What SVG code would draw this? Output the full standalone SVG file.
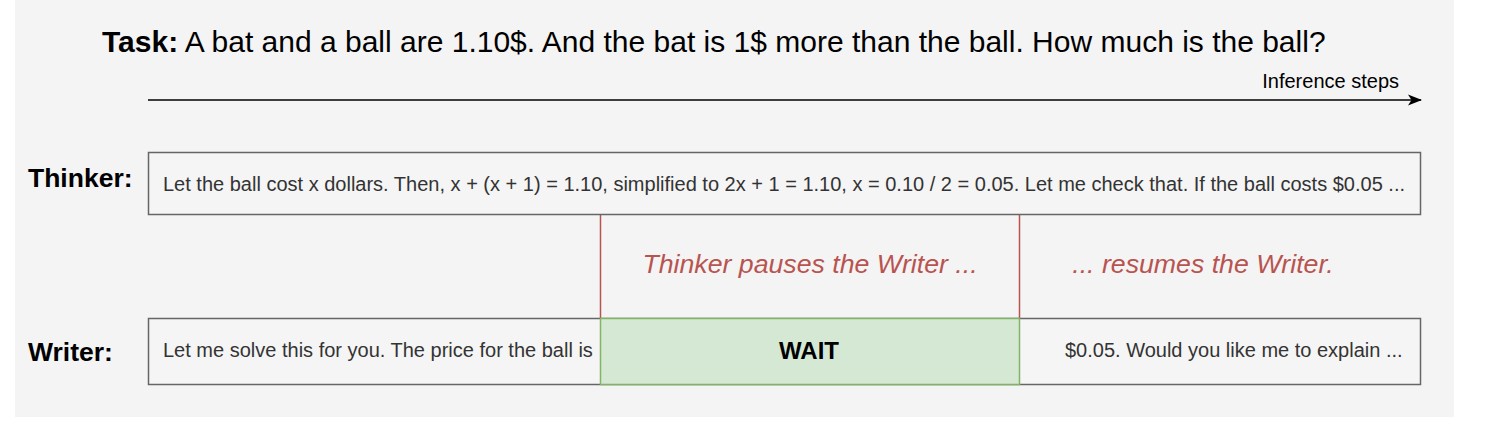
<svg xmlns="http://www.w3.org/2000/svg" width="1485" height="428" viewBox="0 0 1485 428">
<style>
.box{fill:#f5f5f5;stroke:#666666;stroke-width:1.5}
.lbl{font-family:"Liberation Sans",Arial,sans-serif;font-weight:bold;font-size:26.5px;fill:#000}
.txt{font-family:"Liberation Sans",Arial,sans-serif;font-size:20px;fill:#333333}
.red{font-family:"Liberation Sans",Arial,sans-serif;font-style:italic;font-size:26.7px;fill:#b85450;text-anchor:middle}
</style>
<defs>
<marker id="ah" markerWidth="14" markerHeight="14" refX="13" refY="7" orient="auto" markerUnits="userSpaceOnUse">
<path d="M0,1.5 L14,7 L0,12.5 L3.5,7 Z" fill="#000"/>
</marker>
</defs>
<rect x="0" y="0" width="1485" height="428" fill="#ffffff"/>
<rect x="15" y="0" width="1439" height="417" fill="#f4f4f4"/>
<g id="title">
<text x="102" y="52" font-family="Liberation Sans,Arial,sans-serif" font-size="30" fill="#000"><tspan font-weight="bold">Task:</tspan> A bat and a ball are 1.10$. And the bat is 1$ more than the ball. How much is the ball?</text>
</g>
<g id="connectors">
<line x1="148" y1="100" x2="1421" y2="100" stroke="#000" stroke-width="1.5" marker-end="url(#ah)"/>
<line x1="600.5" y1="215" x2="600.5" y2="318" stroke="#b85450" stroke-width="1.5"/>
<line x1="1019.5" y1="215" x2="1019.5" y2="318" stroke="#b85450" stroke-width="1.5"/>
</g>
<g id="axis-label">
<text x="1399" y="88" text-anchor="end" font-family="Liberation Sans,Arial,sans-serif" font-size="20" fill="#000">Inference steps</text>
</g>
<g id="thinker-label"><text class="lbl" x="28" y="187">Thinker:</text></g>
<g id="thinker">
<rect class="box" x="148.5" y="152.5" width="1272" height="62"/>
<text class="txt" x="163" y="191">Let the ball cost x dollars. Then, x + (x + 1) = 1.10, simplified to 2x + 1 = 1.10, x = 0.10 / 2 = 0.05. Let me check that. If the ball costs $0.05 ...</text>
</g>
<g id="pause-label"><text class="red" x="810" y="273">Thinker pauses the Writer ...</text></g>
<g id="resume-label"><text class="red" x="1203" y="273">... resumes the Writer.</text></g>
<g id="writer-label"><text class="lbl" x="28" y="361">Writer:</text></g>
<g id="writer">
<rect class="box" x="148.5" y="318.5" width="1272" height="66"/>
<text class="txt" x="163" y="357">Let me solve this for you. The price for the ball is</text>
</g>
<g id="wait">
<rect x="600.5" y="318.5" width="419" height="66" fill="#d5e8d4" stroke="#82b366" stroke-width="1.5"/>
<text x="809" y="359" text-anchor="middle" font-family="Liberation Sans,Arial,sans-serif" font-weight="bold" font-size="24" fill="#000">WAIT</text>
</g>
<g id="writer-cont">
<text class="txt" x="1065" y="357">$0.05. Would you like me to explain ...</text>
</g>
</svg>
